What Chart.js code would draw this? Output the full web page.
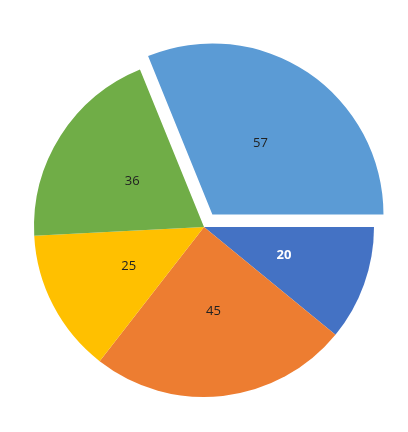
<!DOCTYPE html>
<html>
<head>
<meta charset="utf-8">
<script src="https://cdn.jsdelivr.net/npm/chart.js@4"></script>
<style>
  html, body { margin: 0; padding: 0; background: #fff; }
  #wrap { width: 408px; height: 432px; }
</style>
</head>
<body>
<div id="wrap"><canvas id="pieChart"></canvas></div>
<script>
// Chart data
const categories = ['A', 'B', 'C', 'D', 'E'];
const values = [20, 45, 25, 36, 57];
const sliceColors = ['#4472C4', '#ED7D31', '#FFC000', '#70AD47', '#5B9BD5'];
// Chart.js moves an arc by roughly offset/4, so 60 gives the ~16px explode
const sliceOffsets = [0, 0, 0, 0, 60];
const labelColors = ['#ffffff', '#222222', '#222222', '#222222', '#222222'];

// Same shift that ArcElement.draw applies for a given offset
function arcShift(arc, offset) {
    const circ = arc.endAngle - arc.startAngle;
    const fix = 1 - Math.sin(Math.min(Math.PI, circ || 0));
    return offset / 4 * (1 + fix);
}

// Draws the value in the middle of each slice
const sliceLabels = {
    id: 'sliceLabels',
    afterDatasetsDraw(chart) {
        const ctx = chart.ctx;
        const meta = chart.getDatasetMeta(0);
        ctx.save();
        ctx.textAlign = 'center';
        ctx.textBaseline = 'middle';
        meta.data.forEach(function(arc, i) {
            const mid = (arc.startAngle + arc.endAngle) / 2;
            const r = arc.outerRadius / 2 + arcShift(arc, sliceOffsets[i]);
            const x = arc.x + Math.cos(mid) * r;
            const y = arc.y + Math.sin(mid) * r;
            ctx.fillStyle = labelColors[i];
            ctx.font = (i === 0 ? 'bold ' : '') + '13px "Open Sans", sans-serif';
            ctx.fillText(String(values[i]), x, y);
        });
        ctx.restore();
    }
};

new Chart(document.getElementById('pieChart'), {
    type: 'pie',
    data: {
        labels: categories,
        datasets: [{
            data: values,
            backgroundColor: sliceColors,
            offset: sliceOffsets,
            borderWidth: 0
        }]
    },
    options: {
        responsive: true,
        maintainAspectRatio: false,
        animation: false,
        rotation: 90,
        layout: {
            padding: { top: 27, bottom: 5, left: 0, right: 0 }
        },
        plugins: {
            legend: { display: false },
            tooltip: { enabled: false }
        }
    },
    plugins: [sliceLabels]
});
</script>
</body>
</html>
